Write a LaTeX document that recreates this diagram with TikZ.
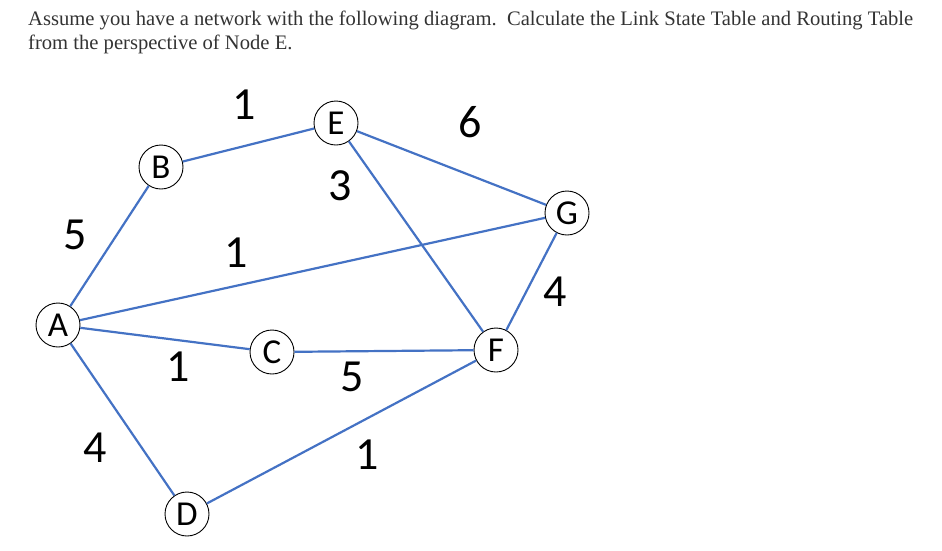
\documentclass[tikz,border=0pt]{standalone}
\usepackage{fontspec}
\setmainfont{Liberation Serif}
\newfontfamily\calib{Carlito}
\definecolor{edgeblue}{HTML}{4472C4}
\definecolor{txtgray}{HTML}{333333}
\begin{document}
\begin{tikzpicture}[x=1pt,y=-1pt,
  nd/.style={circle,draw=black,line width=0.9pt,fill=white,minimum size=44pt,inner sep=0pt,font=\calib\fontsize{35}{35}\selectfont},
  wt/.style={font=\calib\fontsize{46}{46}\selectfont,inner sep=0pt},
  ln/.style={draw=edgeblue,line width=2.2pt}]
\useasboundingbox (0,0) rectangle (942,550);
\node[anchor=base west,inner sep=0pt,font=\fontsize{20.6}{24}\selectfont,text=txtgray] (t1) at (28,25) {Assume you have a network with the following diagram.\ \ Calculate the Link State Table and Routing Table};
\node[anchor=base west,inner sep=0pt,font=\fontsize{20.6}{24}\selectfont,text=txtgray] (t2) at (28,49) {from the perspective of Node E.};
\node[nd] (A) at (58,325) {A};
\node[nd] (B) at (161,167) {B};
\node[nd] (E) at (336,123) {E};
\node[nd] (G) at (567,213) {G};
\node[nd] (C) at (272,352) {C};
\node[nd] (F) at (496,350) {F};
\node[nd] (D) at (187,514) {D};
\path[ln] (A) -- (B);
\path[ln] (B) -- (E);
\path[ln] (E) -- (G);
\path[ln] (E) -- (F);
\path[ln] (A) -- (G);
\path[ln] (A) -- (C);
\path[ln] (C) -- (F);
\path[ln] (A) -- (D);
\path[ln] (D) -- (F);
\path[ln] (G) -- (F);
\node[wt] (w1) at (244,105) {1};
\node[wt] (w2) at (470,122) {6};
\node[wt] (w3) at (340,186) {3};
\node[wt] (w4) at (75,235) {5};
\node[wt] (w5) at (236,253) {1};
\node[wt] (w6) at (555,292) {4};
\node[wt] (w7) at (178,367) {1};
\node[wt] (w8) at (352,377) {5};
\node[wt] (w9) at (95,448) {4};
\node[wt] (w10) at (367,455) {1};
\end{tikzpicture}
\end{document}
